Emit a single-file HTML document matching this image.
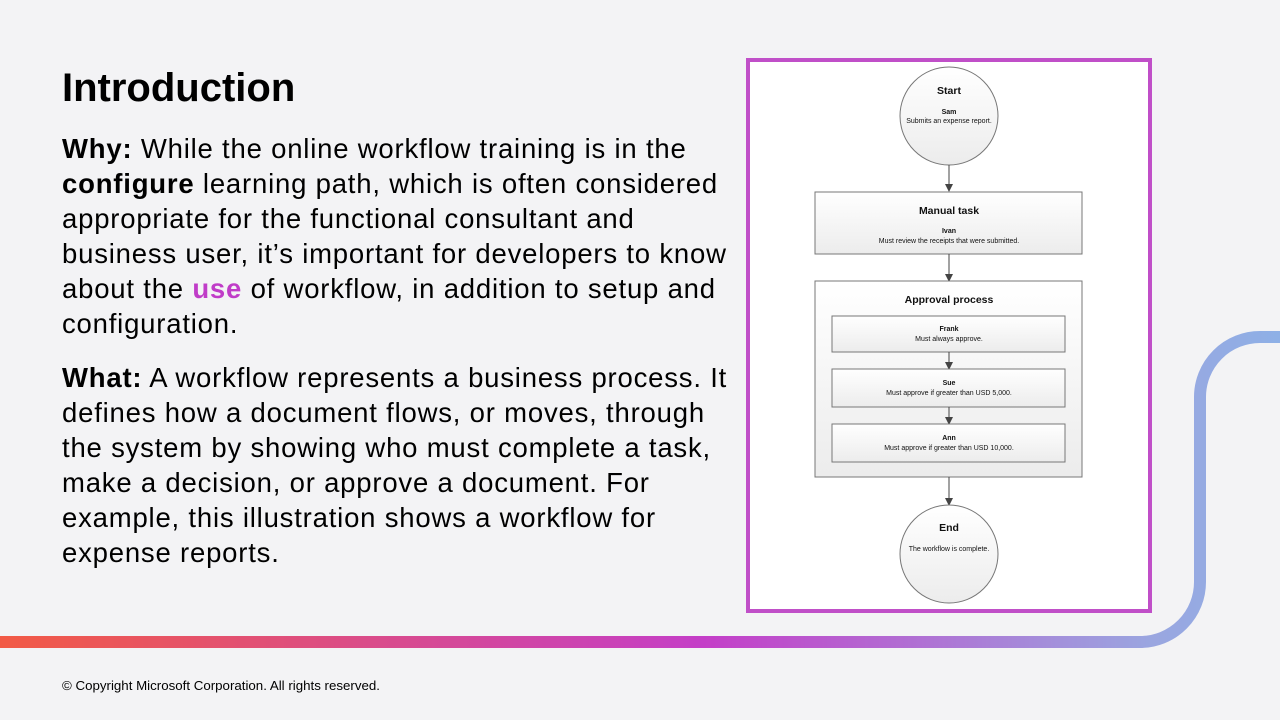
<!DOCTYPE html>
<html><head><meta charset="utf-8"><style>
html,body{margin:0;padding:0;}
body{width:1280px;height:720px;background:#f3f3f5;position:relative;overflow:hidden;font-family:"Liberation Sans",sans-serif;color:#000;}
h1{position:absolute;left:62px;top:66px;margin:0;font-size:40px;font-weight:bold;letter-spacing:0px;}
.p{position:absolute;left:62px;font-size:27.5px;line-height:35px;letter-spacing:0.8px;white-space:nowrap;}
.foot{position:absolute;left:62px;top:678px;font-size:13.3px;}
</style></head><body>
<h1>Introduction</h1>
<div class="p" style="top:131px"><b>Why:</b> While the online workflow training is in the<br><b>configure</b> learning path, which is often considered<br>appropriate for the functional consultant and<br>business user, it’s important for developers to know<br>about the <b style="color:#c03cc8">use</b> of workflow, in addition to setup and<br>configuration.</div>
<div class="p" style="top:360px"><b>What:</b> A workflow represents a business process. It<br>defines how a document flows, or moves, through<br>the system by showing who must complete a task,<br>make a decision, or approve a document. For<br>example, this illustration shows a workflow for<br>expense reports.</div>
<div class="foot">© Copyright Microsoft Corporation. All rights reserved.</div>
<svg width="1280" height="720" style="position:absolute;left:0;top:0">
<defs>
<linearGradient id="g" x1="0" y1="0" x2="1280" y2="0" gradientUnits="userSpaceOnUse">
<stop offset="0" stop-color="#f25a45"/><stop offset="0.55" stop-color="#c43ec8"/><stop offset="0.9" stop-color="#9aa6e0"/><stop offset="1" stop-color="#8eb0e6"/></linearGradient>
<linearGradient id="b" x1="0" y1="0" x2="0" y2="1"><stop offset="0" stop-color="#fff"/><stop offset="1" stop-color="#ececec"/></linearGradient>
<marker id="a" markerWidth="8" markerHeight="8" refX="7" refY="4" orient="auto" markerUnits="userSpaceOnUse"><path d="M0,0 L8,4 L0,8z" fill="#444"/></marker>
</defs>
<path d="M0,642 H1140 A60,60 0 0 0 1200,582 V397 A60,60 0 0 1 1260,337 H1280" fill="none" stroke="url(#g)" stroke-width="12"/>
<rect x="748" y="60" width="402" height="551" fill="#fff" stroke="#c04fc8" stroke-width="4"/>
<g font-family="Liberation Sans,sans-serif" text-anchor="middle" fill="#111">
<circle cx="949" cy="116" r="49" fill="url(#b)" stroke="#777"/>
<text x="949" y="94" font-size="10.5" font-weight="bold">Start</text>
<text x="949" y="114" font-size="7" font-weight="bold">Sam</text>
<text x="949" y="123" font-size="7">Submits an expense report.</text>
<line x1="949" y1="165" x2="949" y2="191" stroke="#444" marker-end="url(#a)"/>
<rect x="815" y="192" width="267" height="62" fill="url(#b)" stroke="#777"/>
<text x="949" y="214" font-size="10.5" font-weight="bold">Manual task</text>
<text x="949" y="233" font-size="7" font-weight="bold">Ivan</text>
<text x="949" y="243" font-size="7">Must review the receipts that were submitted.</text>
<line x1="949" y1="254" x2="949" y2="281" stroke="#444" marker-end="url(#a)"/>
<rect x="815" y="281" width="267" height="196" fill="url(#b)" stroke="#777"/>
<text x="949" y="303" font-size="10.5" font-weight="bold">Approval process</text>
<rect x="832" y="316" width="233" height="36" fill="url(#b)" stroke="#777"/>
<text x="949" y="331" font-size="7" font-weight="bold">Frank</text>
<text x="949" y="341" font-size="7">Must always approve.</text>
<line x1="949" y1="352" x2="949" y2="369" stroke="#444" marker-end="url(#a)"/>
<rect x="832" y="369" width="233" height="38" fill="url(#b)" stroke="#777"/>
<text x="949" y="385" font-size="7" font-weight="bold">Sue</text>
<text x="949" y="395" font-size="7">Must approve if greater than USD 5,000.</text>
<line x1="949" y1="407" x2="949" y2="424" stroke="#444" marker-end="url(#a)"/>
<rect x="832" y="424" width="233" height="38" fill="url(#b)" stroke="#777"/>
<text x="949" y="440" font-size="7" font-weight="bold">Ann</text>
<text x="949" y="450" font-size="7">Must approve if greater than USD 10,000.</text>
<line x1="949" y1="477" x2="949" y2="505" stroke="#444" marker-end="url(#a)"/>
<circle cx="949" cy="554" r="49" fill="url(#b)" stroke="#777"/>
<text x="949" y="531" font-size="10.5" font-weight="bold">End</text>
<text x="949" y="551" font-size="7">The workflow is complete.</text>
</g>
</svg>
</body></html>
